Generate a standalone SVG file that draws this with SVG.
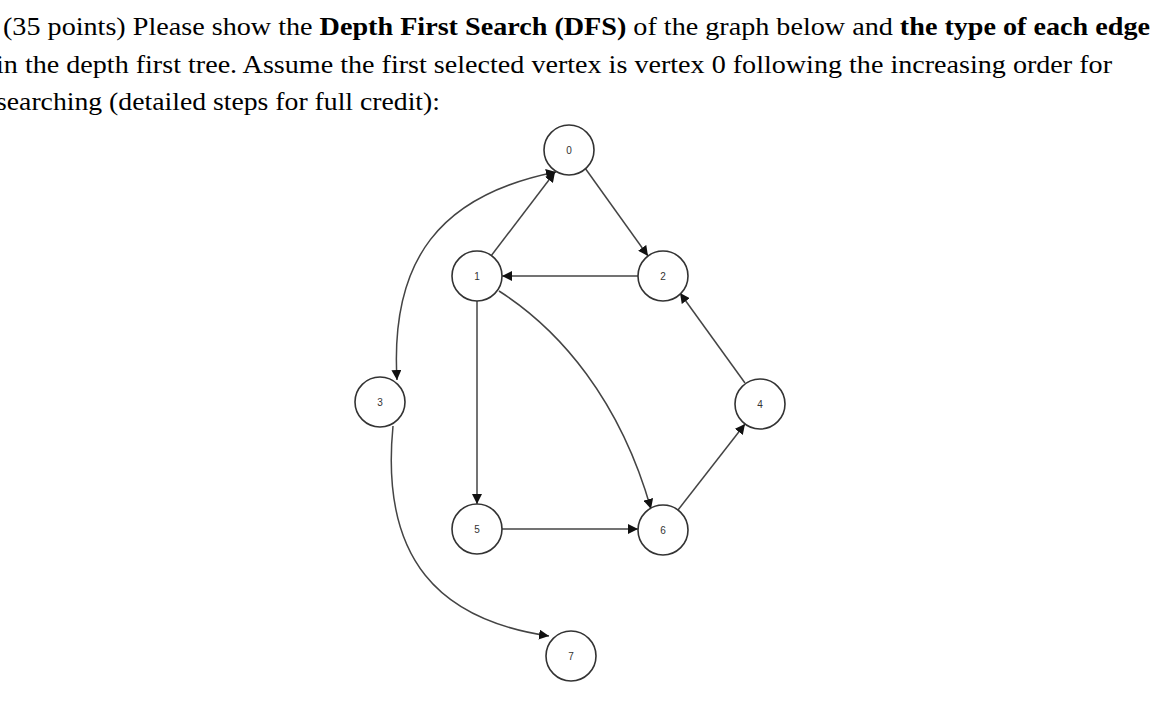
<svg xmlns="http://www.w3.org/2000/svg" width="1175" height="701" viewBox="0 0 1175 701">
<style>
.t{font-family:'Liberation Serif','DejaVu Serif',serif;font-size:26px;fill:#000}
.n circle{fill:#fff;stroke:#333;stroke-width:1.6}
.n text{font-family:'Liberation Sans',sans-serif;font-size:10px;fill:#333;text-anchor:middle;dominant-baseline:central}
.e path{fill:none;stroke:#444;stroke-width:1.5;marker-end:url(#a)}
</style>
<defs><marker id="a" viewBox="0 0 10 10" refX="10" refY="5" markerWidth="10" markerHeight="10" markerUnits="userSpaceOnUse" orient="auto-start-reverse"><path d="M0,0L10,5L0,10z" fill="#111"/></marker></defs>
<rect width="1175" height="701" fill="#fff"/>
<text class="t" x="3" y="35" textLength="1147" lengthAdjust="spacingAndGlyphs">(35 points) Please show the <tspan font-weight="bold">Depth First Search (DFS)</tspan> of the graph below and <tspan font-weight="bold">the type of each edge</tspan></text>
<text class="t" x="-4" y="73" textLength="1116" lengthAdjust="spacingAndGlyphs">in the depth first tree. Assume the first selected vertex is vertex 0 following the increasing order for</text>
<text class="t" x="-4" y="110" textLength="444" lengthAdjust="spacingAndGlyphs">searching (detailed steps for full credit):</text>
<g class="e">
<path d="M585,168 L648,256"/>
<path d="M638,276 L502,276"/>
<path d="M491,256 L555,172"/>
<path d="M556,172 C440,195 390,260 397,380" marker-start="url(#a)"/>
<path d="M477,301 L477,504"/>
<path d="M499,291 C560,330 620,400 651,509"/>
<path d="M502,529 L638,529"/>
<path d="M678,510 L745,424"/>
<path d="M745,383 L680,293"/>
<path d="M393,426 C380,560 440,620 549,636"/>
</g>
<g id="n0" class="n"><circle cx="569" cy="150" r="25"/><text x="569" y="150">0</text></g>
<g id="n1" class="n"><circle cx="477" cy="276" r="25"/><text x="477" y="276">1</text></g>
<g id="n2" class="n"><circle cx="663" cy="276" r="25"/><text x="663" y="276">2</text></g>
<g id="n3" class="n"><circle cx="380" cy="402" r="25"/><text x="380" y="402">3</text></g>
<g id="n4" class="n"><circle cx="760" cy="404" r="25"/><text x="760" y="404">4</text></g>
<g id="n5" class="n"><circle cx="477" cy="529" r="25"/><text x="477" y="529">5</text></g>
<g id="n6" class="n"><circle cx="663" cy="530" r="25"/><text x="663" y="530">6</text></g>
<g id="n7" class="n"><circle cx="571" cy="656" r="25"/><text x="571" y="656">7</text></g>
</svg>
